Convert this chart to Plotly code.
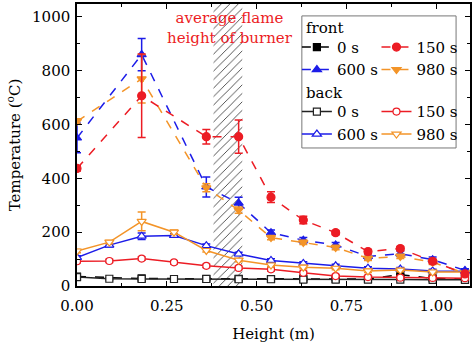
import plotly.graph_objects as go

# ---------------- data ----------------
x_front = [0, 0.18, 0.36, 0.45, 0.54, 0.63, 0.72, 0.81, 0.90, 0.99, 1.08]
x_back = [0, 0.09, 0.18, 0.27, 0.36, 0.45, 0.54, 0.63, 0.72, 0.81, 0.90, 0.99, 1.08]

front_0 = [35, 28, 27, 27, 26, 26, 26, 26, 42, 28, 26]
front_0_err = [3, 3, 3, 3, 3, 3, 3, 3, 3, 3, 3]
front_150 = [437, 707, 555, 555, 330, 245, 198, 128, 139, 92, 45]
front_150_err = [10, 155, 27, 62, 20, 14, 8, 8, 8, 8, 5]
front_600 = [550, 860, 368, 308, 198, 170, 152, 110, 120, 98, 58]
front_600_err = [55, 60, 37, 22, 10, 10, 10, 10, 10, 10, 6]
front_980 = [612, 770, 365, 282, 180, 162, 143, 103, 110, 88, 48]
front_980_err = [10, 90, 15, 12, 8, 8, 8, 8, 8, 8, 5]

back_0 = [33, 27, 26, 26, 26, 25, 25, 24, 24, 24, 24, 23, 23]
back_0_err = [4] * 13
back_150 = [92, 93, 102, 88, 75, 67, 62, 49, 37, 33, 31, 30, 29]
back_150_err = [6] * 13
back_600 = [106, 152, 185, 188, 150, 119, 95, 84, 75, 66, 63, 56, 55]
back_600_err = [6, 6, 12, 6, 6, 6, 6, 6, 6, 6, 6, 6, 6]
back_980 = [130, 163, 240, 200, 132, 96, 78, 70, 66, 56, 59, 52, 52]
back_980_err = [6, 6, 35, 8, 6, 6, 6, 6, 6, 6, 6, 6, 6]

flame_zone = [0.38, 0.46]
y_range = [0, 1048]
x_range = [0, 1.094]

RED = "#ec1c24"
BLUE = "#1c1ce8"
ORANGE = "#f39428"
BLACK = "#000000"
FONT = "DejaVu Serif"
FS = 15

fig = go.Figure()

# hatched flame zone
fig.add_trace(go.Scatter(
    x=[flame_zone[0], flame_zone[1], flame_zone[1], flame_zone[0], flame_zone[0]],
    y=[y_range[0], y_range[0], y_range[1], y_range[1], y_range[0]],
    mode="lines", fill="toself", line=dict(width=0),
    fillcolor="rgba(0,0,0,0)",
    fillpattern=dict(shape="/", fgcolor="#444444", bgcolor="white", size=6, solidity=0.15, fgopacity=1),
    showlegend=False, hoverinfo="skip"))

def add(x, y, err, color, symbol, dash, legend, name, size, rank, hollow):
    fig.add_trace(go.Scatter(
        x=x, y=y, mode="lines+markers", name=name, legend=legend, legendrank=rank,
        line=dict(color=color, width=1.5, dash=dash),
        marker=dict(color="white" if hollow else color, symbol=symbol, size=size,
                    line=dict(color=color, width=1.2)),
        error_y=dict(type="data", array=err, color=color, thickness=1.5, width=4),
    ))

# front 0 s first (mostly hidden under back series)
add(x_front, front_0, front_0_err, BLACK, "square", "dash", "legend", "0 s", 7, 1, False)
# back series (solid, hollow)
add(x_back, back_0, back_0_err, "#222222", "square", "solid", "legend3", "0 s", 7, 1, True)
add(x_back, back_150, back_150_err, RED, "circle", "solid", "legend4", "150 s", 7, 1, True)
add(x_back, back_600, back_600_err, BLUE, "triangle-up", "solid", "legend3", "600 s", 8, 2, True)
add(x_back, back_980, back_980_err, ORANGE, "triangle-down", "solid", "legend4", "980 s", 8, 2, True)
# front series (dashed, filled)
add(x_front, front_600, front_600_err, BLUE, "triangle-up", "dash", "legend", "600 s", 8, 2, False)
add(x_front, front_980, front_980_err, ORANGE, "triangle-down", "dash", "legend2", "980 s", 8, 2, False)
add(x_front, front_150, front_150_err, RED, "circle", "dash", "legend2", "150 s", 8, 1, False)

W, H = 474, 343
ml, mr, mt, mb = 77, 2, 2, 57
pw, ph = W - ml - mr, H - mt - mb

def px(x):
    return (x - ml) / pw

def py(y):
    return (H - mb - y) / ph

leg_common = dict(bgcolor="rgba(0,0,0,0)", borderwidth=0, font=dict(family=FONT, size=FS, color="black"),
                  xanchor="left", yanchor="top", itemwidth=30, tracegroupgap=0, traceorder="normal")

fig.update_layout(
    width=W, height=H,
    margin=dict(l=ml, r=mr, t=mt, b=mb),
    paper_bgcolor="white", plot_bgcolor="white",
    font=dict(family=FONT, size=FS, color="black"),
    xaxis=dict(range=x_range, tickvals=[0, 0.25, 0.5, 0.75, 1.0],
               ticktext=["0.00", "0.25", "0.50", "0.75", "1.00"],
               ticks="inside", ticklen=5, tickwidth=1.3, tickcolor="black", ticklabelstandoff=5,
               tickfont=dict(family=FONT, size=FS),
               minor=dict(ticks="inside", dtick=0.125, tick0=0, ticklen=3, tickwidth=1.3, tickcolor="black"),
               showline=True, linecolor="black", linewidth=1.5, mirror="ticks",
               showgrid=False, zeroline=False,
               title=dict(text="Height (m)", font=dict(family=FONT, size=FS), standoff=15)),
    yaxis=dict(range=y_range, tickvals=[0, 200, 400, 600, 800, 1000],
               ticks="inside", ticklen=5, tickwidth=1.3, tickcolor="black", ticklabelstandoff=2,
               tickfont=dict(family=FONT, size=FS),
               minor=dict(ticks="inside", dtick=100, tick0=0, ticklen=3, tickwidth=1.3, tickcolor="black"),
               showline=True, linecolor="black", linewidth=1.5, mirror="ticks",
               showgrid=False, zeroline=False,
               title=dict(text="Temperature (<sup>o</sup>C)", font=dict(family=FONT, size=FS), standoff=8)),
    legend=dict(x=px(298), y=py(29), **leg_common),
    legend2=dict(x=px(378), y=py(29), **leg_common),
    legend3=dict(x=px(298), y=py(94), **leg_common),
    legend4=dict(x=px(378), y=py(94), **leg_common),
    shapes=[dict(type="rect", xref="paper", yref="paper", x0=px(303), x1=px(458), y0=py(147), y1=py(14),
                 line=dict(color="#777777", width=1), layer="above")],
    annotations=[
        dict(text="average flame<br>height of burner", xref="paper", yref="paper",
             x=px(231), y=py(26), showarrow=False, font=dict(family=FONT, size=FS, color=RED),
             xanchor="center", yanchor="middle"),
        dict(text="front", xref="paper", yref="paper", x=px(305), y=py(26), showarrow=False,
             font=dict(family=FONT, size=FS, color="black"), xanchor="left", yanchor="middle"),
        dict(text="back", xref="paper", yref="paper", x=px(305), y=py(92), showarrow=False,
             font=dict(family=FONT, size=FS, color="black"), xanchor="left", yanchor="middle"),
    ],
    showlegend=True,
)

fig.write_html("out.html")
